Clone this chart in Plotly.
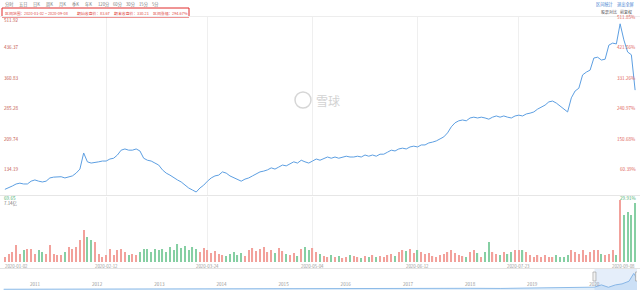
import plotly.graph_objects as go

W, H = 640, 290
FONT = "Noto Sans CJK SC"

# ---------------- data ----------------
price = [
    83.67, 87, 92, 97, 99, 97, 97, 104, 107, 104,
    102, 104, 112, 114, 114, 115, 112, 114, 117, 124,
    134, 174, 152, 149, 150, 152, 154, 154, 159, 161,
    169, 181, 184, 181, 181, 184, 179, 161, 156, 154,
    149, 144, 132, 124, 119, 112, 107, 102, 94, 87,
    82, 77, 87, 94, 104, 112, 117, 119, 127, 124,
    117, 112, 107, 104, 109, 112, 117, 122, 127, 129,
    132, 137, 134, 139, 144, 142, 147, 152, 149, 156,
    152, 149, 154, 159, 156, 161, 164, 161, 164, 161,
    164, 166, 164, 164, 166, 164, 169, 166, 169, 166,
    171, 171, 176, 181, 179, 184, 186, 184, 189, 191,
    189, 194, 194, 199, 201, 204, 209, 214, 224, 239,
    249, 254, 256, 254, 261, 263, 261, 263, 261, 258,
    263, 266, 263, 266, 263, 261, 266, 268, 266, 271,
    273, 276, 283, 288, 293, 301, 303, 298, 291, 283,
    276, 311, 328, 335, 368, 375, 380, 410, 412, 405,
    407, 442, 447, 445, 495, 455, 425, 418, 330.21,
]

volume = [
    5, 8, 10, 17, 8, 12, 13, 13, 8, 12,
    10, 8, 17, 8, 7, 7, 10, 15, 13, 15,
    22, 32, 25, 22, 20, 8, 5, 7, 13, 7,
    12, 13, 10, 7, 8, 7, 10, 13, 13, 10,
    13, 12, 13, 10, 15, 12, 18, 14, 16, 12,
    15, 13, 10, 14, 12, 9, 11, 8, 7, 6,
    8, 10, 7, 9, 6, 12, 14, 11, 13, 15,
    10, 12, 9, 14, 11, 8, 7, 9, 6, 13,
    15, 12, 14, 10, 8, 6, 5, 7, 5, 6,
    4, 5, 7, 6, 5, 4, 6, 5, 7, 5,
    6, 5, 7, 8, 6, 10, 12, 11, 13, 9,
    12, 10, 8, 9, 6, 5, 7, 8, 10, 12,
    9, 7, 6, 5, 10, 12, 9, 5, 10, 20,
    10, 8, 7, 10, 8, 10, 12, 12, 12, 10,
    7, 5, 7, 5, 7, 5, 5, 7, 5, 5,
    7, 12, 10, 8, 12, 7, 10, 12, 12, 8,
    7, 8, 12, 7, 62, 47, 50, 47, 59,
]

date_tick_idx = [0, 27, 54, 82, 110, 137, 168]
date_tick_text = ["2020-01-02", "2020-02-12", "2020-03-24", "2020-05-04",
                  "2020-06-12", "2020-07-23", "2020-09-08"]

price_ticks = [134.19, 209.74, 285.28, 360.83, 436.37, 511.92]
price_tick_text = ["134.19", "209.74", "285.28", "360.83", "436.37", "511.92"]
pct_tick_text = ["60.39%", "150.68%", "240.97%", "331.26%", "421.56%", "511.85%"]

nav_dates = ["2010-07-01", "2011-01-01", "2011-07-01", "2012-01-01", "2012-07-01",
             "2013-01-01", "2013-07-01", "2014-01-01", "2014-07-01", "2015-01-01",
             "2015-07-01", "2016-01-01", "2016-07-01", "2017-01-01", "2017-07-01",
             "2018-01-01", "2018-07-01", "2019-01-01", "2019-07-01", "2020-01-02",
             "2020-02-12", "2020-03-24", "2020-05-04", "2020-06-12", "2020-07-23",
             "2020-08-20", "2020-09-08"]
nav_values = [22, 25, 24, 28, 26, 30, 32, 35, 33, 45, 40, 38, 42, 48, 52,
              50, 46, 60, 72, 84, 150, 80, 150, 180, 260, 490, 330]

year_ticks = ["2011-01-01", "2012-01-01", "2013-01-01", "2014-01-01", "2015-01-01",
              "2016-01-01", "2017-01-01", "2018-01-01", "2019-01-01", "2020-01-01"]
year_text = ["2011", "2012", "2013", "2014", "2015", "2016", "2017", "2018", "2019", "2020"]

tabs = ["分时", "五日", "日K", "周K", "月K", "季K", "年K", "120分", "60分", "30分", "15分", "5分"]
header = [("区间范围：", 3), ("2020-01-02 ~ 2020-09-08", 22), ("期始收盘价：", 75),
          ("83.67", 98), ("期末收盘价：", 112), ("330.21", 135),
          ("区间涨幅：", 151), ("294.67%", 170)]

# ---------------- helpers ----------------
def px(x):
    return x / W

def py(y):
    return (H - y) / H

idx = list(range(len(price)))
UP, DOWN = "#f2a19b", "#86cfa3"
bar_colors = [UP if i == 0 or price[i] >= price[i - 1] else DOWN for i in idx]

fig = go.Figure()
fig.add_trace(go.Scatter(x=idx, y=price, mode="lines",
                         line=dict(color="#5d9fe2", width=1),
                         xaxis="x", yaxis="y", hoverinfo="skip"))
fig.add_trace(go.Bar(x=idx, y=volume, marker=dict(color=bar_colors, line=dict(width=0)),
                     xaxis="x2", yaxis="y2", hoverinfo="skip"))
fig.add_trace(go.Scatter(x=nav_dates, y=nav_values, mode="lines", fill="tozeroy",
                         line=dict(color="#8dbbe8", width=1),
                         fillcolor="rgba(170,205,240,0.35)",
                         xaxis="x3", yaxis="y3", hoverinfo="skip"))

xdom = [px(3), px(637)]
grid_idx = date_tick_idx[1:-1]
annotations = []
shapes = []

def txt(t, x, y, size, color, anchor="left", xref="paper", yref="paper", yshift=0):
    annotations.append(dict(text=t, x=x, y=y, xref=xref, yref=yref, yshift=yshift,
                            xanchor=anchor, yanchor="middle", showarrow=False,
                            font=dict(size=size, color=color, family=FONT)))

# tabs row
tab_pos = [3, 17, 31, 44, 57, 70, 83, 96, 111, 124, 137, 150]
for t, x in zip(tabs, tab_pos):
    txt(t, px(x), py(4.5), 4.2, "#7a7a7a")

# header inside red box
for t, x in header:
    txt(t, px(x), py(12.5), 3.9, "#e0473d")
shapes.append(dict(type="rect", xref="paper", yref="paper", x0=px(2), x1=px(189),
                   y0=py(17), y1=py(8), line=dict(color="#e02a2a", width=1)))

# top right links
txt("区间统计", px(615), py(4.5), 4.2, "#3f7fd0", anchor="right")
txt("退出全屏", px(636), py(4.5), 4.2, "#3f7fd0", anchor="right")
txt("股票对比", px(619), py(11.5), 4.0, "#555555", anchor="right")
txt("前复权", px(634), py(11.5), 4.0, "#555555", anchor="right")

# price axis labels left / right
for k, (v, lt, rt) in enumerate(zip(price_ticks, price_tick_text, pct_tick_text)):
    top = k == len(price_ticks) - 1
    txt(lt, px(2), v, 4.6, "#c4564c", yref="y", yshift=-3 if top else 0)
    txt(rt, px(638), v, 4.6, "#e0645a", anchor="right", yref="y")

# volume panel labels
txt("69.65", px(2), py(197.5), 4.6, "#4caf70")
txt("7.14亿", px(2), py(203), 4.4, "#777777")
txt("29.91%", px(638), py(197.5), 4.6, "#4caf70", anchor="right")

# date labels under volume
for k, (i, t) in enumerate(zip(date_tick_idx, date_tick_text)):
    if k == 0:
        txt(t, i - 0.5, py(265.5), 4.4, "#999999", anchor="left", xref="x2")
    elif k == len(date_tick_idx) - 1:
        txt(t, i + 0.5, py(265.5), 4.4, "#999999", anchor="right", xref="x2")
    else:
        txt(t, i, py(265.5), 4.4, "#999999", anchor="center", xref="x2")

# watermark
shapes.append(dict(type="circle", xref="paper", yref="paper", x0=px(295), x1=px(311),
                   y0=py(108), y1=py(92), line=dict(color="#d6d6d6", width=1.5)))
txt("雪球", px(314), py(100), 12, "#d2d2d2")

# separators
for y, c in [(16.5, "#ededed"), (195.5, "#e6e6e6"), (268.5, "#e3e3e3")]:
    shapes.append(dict(type="line", xref="paper", yref="paper", x0=0, x1=1,
                       y0=py(y), y1=py(y), line=dict(color=c, width=1)))

# navigator mask and handles
shapes.append(dict(type="rect", xref="x3", yref="paper", x0="2020-01-02", x1="2020-09-08",
                   y0=0, y1=py(269), fillcolor="rgba(110,160,225,0.18)", line=dict(width=0)))
for d in ["2020-01-02", "2020-09-08"]:
    shapes.append(dict(type="rect", xref="x3", yref="paper", xsizemode="pixel", xanchor=d,
                       x0=-1.5, x1=1.5, y0=py(281), y1=py(272),
                       fillcolor="#f2f2f2", line=dict(color="#999999", width=0.6)))

fig.update_layout(
    width=W, height=H, margin=dict(l=0, r=0, t=0, b=0),
    paper_bgcolor="white", plot_bgcolor="white", showlegend=False,
    bargap=0.68,
    font=dict(family=FONT, size=5, color="#999"),
    xaxis=dict(domain=xdom, range=[-0.5, 168.5], anchor="y", tickvals=grid_idx,
               showticklabels=False, ticks="", showgrid=True, gridcolor="#efefef",
               gridwidth=1, zeroline=False, showline=False),
    yaxis=dict(domain=[py(195), py(16)], range=[69.6, 514.4], anchor="x",
               showticklabels=False, showgrid=False, zeroline=False, ticks=""),
    xaxis2=dict(domain=xdom, range=[-0.5, 168.5], anchor="y2", tickvals=grid_idx,
                showticklabels=False, ticks="", showgrid=True, gridcolor="#efefef",
                zeroline=False, showline=False),
    yaxis2=dict(domain=[py(262), py(197)], range=[0, 65], anchor="x2",
                showticklabels=False, showgrid=False, zeroline=False, ticks=""),
    xaxis3=dict(domain=xdom, type="date", range=["2010-06-27", "2020-09-08"], anchor="y3",
                tickvals=year_ticks, ticktext=year_text, ticklabelposition="inside",
                tickfont=dict(size=4.6, color="#999999", family=FONT), ticks="",
                showgrid=False, zeroline=False, showline=False),
    yaxis3=dict(domain=[0, py(269)], range=[0, 620], anchor="x3", visible=False),
    annotations=annotations, shapes=shapes,
)

fig.write_html("out.html")
